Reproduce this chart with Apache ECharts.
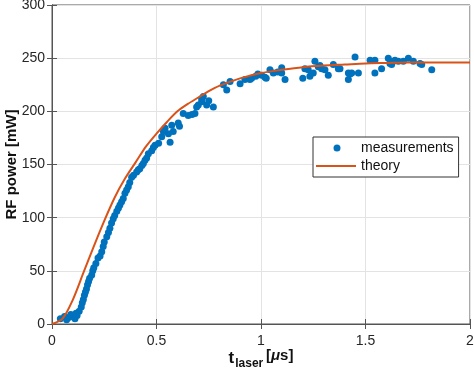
<!DOCTYPE html>
<html>
<head>
<meta charset="utf-8">
<script src="https://cdn.jsdelivr.net/npm/echarts@6/dist/echarts.min.js"></script>
<style>html,body{margin:0;padding:0;background:#fff}#c{width:474px;height:376px}</style>
</head>
<body>
<div id="c"></div>
<script>
// Measurements: time [µs] and RF power [mW]
var measT = [0.04,0.06,0.07,0.08,0.09,0.10,0.11,0.12,0.115,0.13,0.14,0.145,0.15,0.155,0.16,0.165,0.17,0.175,0.18,0.19,0.195,0.20,0.21,0.22,0.23,0.238,0.245,0.25,0.262,0.27,0.277,0.285,0.293,0.30,0.31,0.318,0.325,0.333,0.341,0.349,0.357,0.365,0.372,0.381,0.39,0.405,0.413,0.42,0.43,0.437,0.445,0.453,0.461,0.477,0.485,0.493,0.51,0.525,0.533,0.541,0.557,0.565,0.58,0.573,0.604,0.61,0.628,0.652,0.67,0.684,0.692,0.70,0.716,0.716,0.724,0.74,0.75,0.772,0.82,0.836,0.852,0.90,0.923,0.947,0.955,0.975,0.985,1.003,1.019,1.025,1.043,1.059,1.08,1.099,1.099,1.115,1.20,1.21,1.226,1.234,1.25,1.258,1.274,1.282,1.29,1.306,1.322,1.346,1.37,1.378,1.418,1.418,1.426,1.434,1.45,1.466,1.522,1.545,1.545,1.577,1.609,1.617,1.625,1.633,1.641,1.657,1.681,1.705,1.729,1.761,1.769,1.817];
var measP = [5,7,4,6,9,7,5,8,10,12,16,20,23,27,30,33,37,40,43,46,50,53,57,62,64,68,73,77,82,86,90,95,99,102,106,109,112,115,118,123,126,129,133,138,140,143,145,146,149,151,154,156,160,163,166,168,170,176,181,184,179,171,181,187,189,186,198,196,197,198,204,206,209,212,214,206,210,204,225,220,228,226,230,230,231,233,235,234,232,231,239,236,237,241,236,230,231,240,239,233,236,247,242,243,240,239,234,244,240,240,230,236,235,236,251,236,248,248,236,240,250,245,244,247,248,247,247,250,247,245,244,239];
// Theory curve
var theoT = [0,0.05,0.10,0.15,0.20,0.25,0.30,0.35,0.40,0.45,0.50,0.55,0.60,0.65,0.70,0.75,0.80,0.90,1.0,1.1,1.2,1.3,1.4,1.5,1.6,1.7,1.8,1.9,2.0];
var theoP = [0,5,23,48,73,97,119,137,152,167,179,190,200,207,213,219,224,231,236,239,241.5,243,244,245,245.5,246,246,246,246];
var xTicks = [0,0.5,1,1.5,2];
var yTicks = [0,50,100,150,200,250,300];

var meas = measT.map(function(t,i){return [t, measP[i]];});
var theo = theoT.map(function(t,i){return [t, theoP[i]];});

var axisColor = '#555';
var labelColor = '#262626';
var FONT = 'Liberation Sans, Arial, sans-serif';
var chart = echarts.init(document.getElementById('c'));
var baseX = {type:'value', min:xTicks[0], max:xTicks[xTicks.length-1], interval:0.5};
var baseY = {type:'value', min:yTicks[0], max:yTicks[yTicks.length-1], interval:50};
var dotIcon = 'path://M0,0L0.01,0L0.01,0.01Z M17.5,7A3.5,3.5 0 1 1 24.5,7A3.5,3.5 0 1 1 17.5,7Z M39.99,13.99L40,13.99L40,14Z';
var lineIcon = 'path://M0,0L0.01,0L0.01,0.01Z M0,6L40,6L40,8L0,8Z M39.99,13.99L40,13.99L40,14Z';
chart.setOption({
  animation:false,
  grid:{left:52,right:4,top:5,bottom:52,show:true,borderColor:axisColor,borderWidth:1,backgroundColor:'#fff',
        containLabel:false, outerBoundsMode:'none'},
  xAxis:[
    Object.assign({}, baseX, {
      position:'bottom',
      axisLine:{show:true,lineStyle:{color:axisColor,width:1}},
      axisTick:{show:true,inside:true,length:5,lineStyle:{color:axisColor}},
      axisLabel:{color:labelColor,fontSize:14,margin:10,fontFamily:FONT,
        formatter:function(v){return String(v);}},
      splitLine:{show:true,lineStyle:{color:'#e3e3e3',width:1}},
      name:'{t|t}{sub|laser}{sp| }{u|[}{mu|μ}{u|s]}',
      nameLocation:'middle', nameGap:22, nameMoveOverlap:false,
      nameTextStyle:{
        rich:{
          t:{fontSize:17,fontWeight:'bold',color:'#111',fontFamily:FONT},
          sub:{fontSize:12,fontWeight:'bold',color:'#111',padding:[12,0,0,1],fontFamily:FONT},
          sp:{fontSize:10},
          u:{fontSize:15,fontWeight:'bold',color:'#111',padding:[0,0,4,0],fontFamily:FONT},
          mu:{fontSize:15,fontWeight:'bold',fontStyle:'italic',color:'#111',padding:[0,0,4,0],fontFamily:FONT}
        }
      }
    }),
    Object.assign({}, baseX, {
      position:'top',
      axisLine:{show:true,lineStyle:{color:axisColor}},
      axisTick:{show:true,inside:true,length:5,lineStyle:{color:axisColor}},
      axisLabel:{show:false}, splitLine:{show:false}
    })
  ],
  yAxis:[
    Object.assign({}, baseY, {
      position:'left',
      axisLine:{show:true,lineStyle:{color:axisColor,width:1}},
      axisTick:{show:true,inside:true,length:5,lineStyle:{color:axisColor}},
      axisLabel:{color:labelColor,fontSize:14,margin:7,fontFamily:FONT},
      splitLine:{show:true,lineStyle:{color:'#e3e3e3',width:1}},
      name:'RF power [mW]', nameLocation:'middle', nameGap:33, nameRotate:90, nameMoveOverlap:false,
      nameTextStyle:{fontSize:15,fontWeight:'bold',color:'#111',fontFamily:FONT}
    }),
    Object.assign({}, baseY, {
      position:'right',
      axisLine:{show:true,lineStyle:{color:axisColor}},
      axisTick:{show:true,inside:true,length:5,lineStyle:{color:axisColor}},
      axisLabel:{show:false}, splitLine:{show:false}
    })
  ],
  legend:{
    orient:'vertical', left:313, top:137,
    backgroundColor:'#fff', borderColor:'#333', borderWidth:1,
    padding:[4,5,4,3], itemGap:4, itemWidth:40, itemHeight:14,
    textStyle:{fontSize:14,color:'#111',fontFamily:FONT},
    data:[{name:'measurements',icon:dotIcon},{name:'theory',icon:lineIcon}]
  },
  series:[
    {name:'measurements', type:'scatter', data:meas, symbol:'circle', symbolSize:7,
     itemStyle:{color:'#0072BD',opacity:1}, z:3},
    {name:'theory', type:'line', data:theo, smooth:0.3, showSymbol:false, symbol:'none',
     lineStyle:{color:'#D95319',width:2}, itemStyle:{color:'#D95319'}, z:4}
  ]
});
</script>
</body>
</html>
